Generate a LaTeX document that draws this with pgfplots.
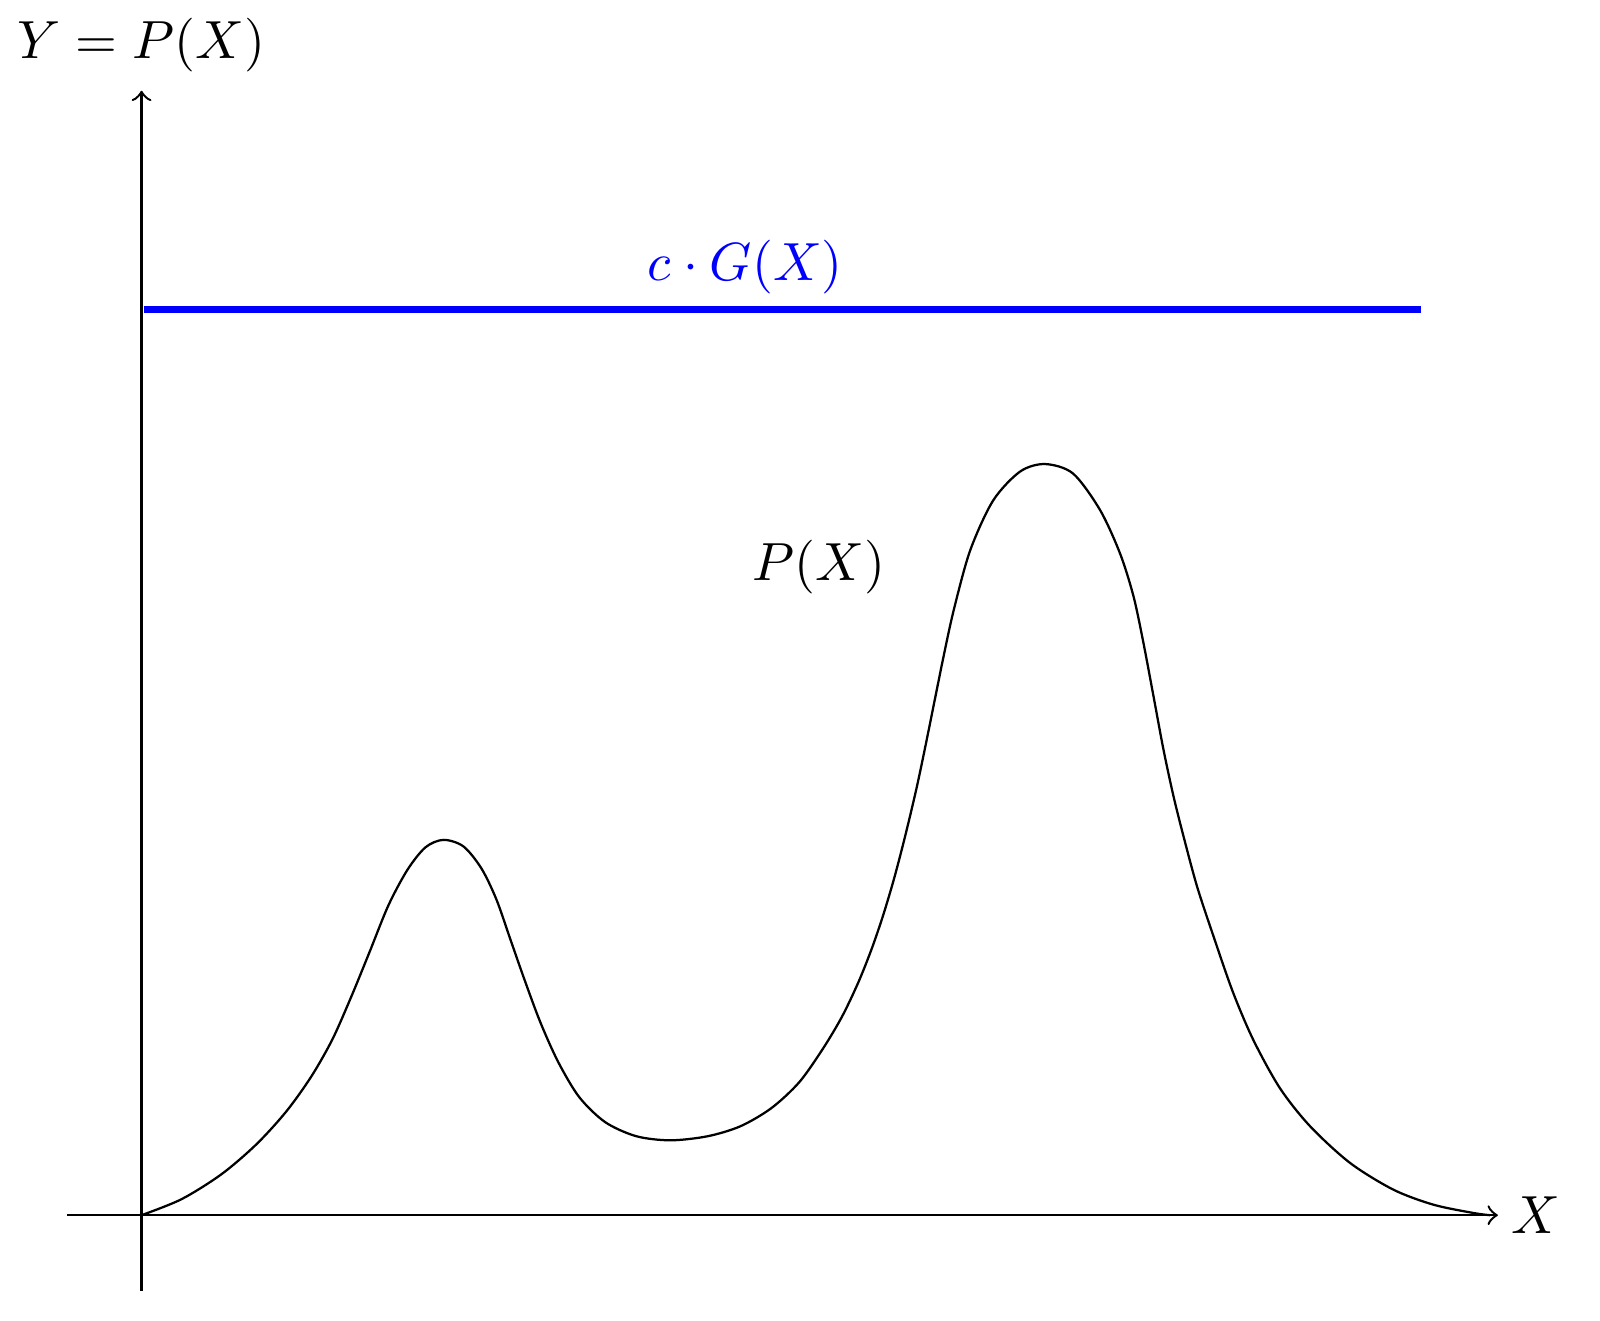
\documentclass[border=0pt]{standalone}
\usepackage{pgfplots}
\pgfplotsset{compat=1.18}
\begin{document}
\begin{tikzpicture}
\begin{axis}[
  x=18.6pt, y=18.6pt,          % same unit on both axes
  axis lines=middle,
  axis line style={-to, line width=0.45pt},
  xmin=-0.745, xmax=13.57,
  ymin=-0.756, ymax=11.25,
  ticks=none,
  clip=false,
]
% density P(X)
\addplot[black, line width=0.42pt, smooth] coordinates {
(0,0) (0.40,0.16) (0.80,0.41) (1.15,0.71) (1.45,1.04) (1.70,1.39)
(1.91,1.76) (2.10,2.19) (2.28,2.63) (2.47,3.10) (2.66,3.455) (2.84,3.68)
(3.02,3.755) (3.22,3.69) (3.40,3.47) (3.55,3.16) (3.69,2.76) (3.83,2.36)
(3.99,1.93) (4.17,1.53) (4.38,1.18) (4.64,0.93) (4.95,0.79) (5.29,0.749)
(5.66,0.789) (5.99,0.889) (6.30,1.07) (6.58,1.33) (6.82,1.67) (7.01,1.99)
(7.17,2.326) (7.30,2.651) (7.41,2.97) (7.51,3.30) (7.59,3.596) (7.675,3.936)
(7.76,4.30) (7.84,4.68) (7.925,5.10) (8.02,5.57) (8.125,6.05) (8.29,6.65)
(8.52,7.15) (8.79,7.44) (9.04,7.515) (9.32,7.42) (9.59,7.055) (9.79,6.62)
(9.925,6.19) (10.025,5.72) (10.125,5.19) (10.225,4.655) (10.325,4.19)
(10.425,3.79) (10.56,3.29) (10.725,2.79) (10.92,2.23) (11.125,1.75)
(11.39,1.27) (11.692,0.889) (12.092,0.522) (12.525,0.255) (12.925,0.105)
(13.325,0.022) (13.49,0)
};
% envelope c*G(X)
\addplot[blue, line width=1.25pt] coordinates {(0.02,9.06) (12.80,9.06)};
\node at (axis cs:0,11.71) {$Y = P(X)$};
\node at (axis cs:13.95,0) {$X$};
\node[blue] at (axis cs:6.04,9.49) {$c \cdot G(X)$};
\node at (axis cs:6.776,6.48) {$P(X)$};
% page margins of the reference
\path (axis cs:-1.408,-1.058) (axis cs:14.592,12.122);
\end{axis}
\end{tikzpicture}
\end{document}
